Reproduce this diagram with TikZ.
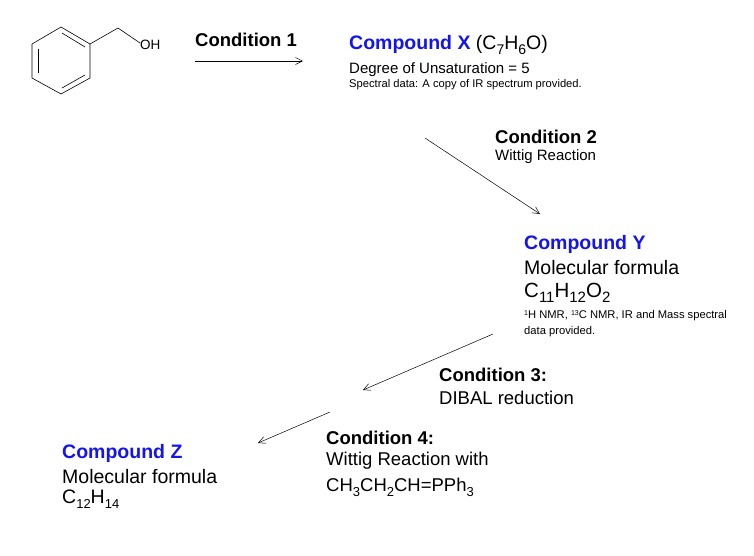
\documentclass[tikz,border=0pt]{standalone}
\usepackage{fontspec}
\setmainfont{Liberation Sans}
\usetikzlibrary{arrows.meta}
\definecolor{cblue}{RGB}{20,20,240}
\newcommand{\fs}[1]{\fontsize{#1}{#1}\selectfont}
\newcommand{\sbx}[2]{\raisebox{-5pt}{\fs{#1}#2}}
\begin{document}
\begin{tikzpicture}[x=1pt,y=-1pt,
  txt/.style={anchor=west,inner sep=0pt},
  rxn/.style={draw, line width=0.5pt, -{Straight Barb[length=7pt,width=7pt]}},
  bond/.style={line width=0.6pt}]
\useasboundingbox (0,0) rectangle (754,555);
% benzene
\coordinate (a1) at (61,27); \coordinate (a2) at (90,44); \coordinate (a3) at (90,78);
\coordinate (a4) at (61,94); \coordinate (a5) at (32,78); \coordinate (a6) at (32,44);
\coordinate (c1) at (118,28); \coordinate (c2) at (140,43);
\draw[bond] (a1)--(a2)--(a3)--(a4)--(a5)--(a6)--cycle;
\draw[bond] (38,49)--(38,73);
\draw[bond] (62,33)--(85,47);
\draw[bond] (62,88)--(85,75);
\draw[bond] (a2)--(c1)--(c2);
\node[txt] (oh) at (140,45) {\fs{13.5}OH};
% arrow 1
\coordinate (s1) at (195,61); \coordinate (e1) at (303,61);
\draw[rxn] (s1)--(e1);
\node[txt] (k1) at (195,40) {\fs{18.5}\bfseries Condition 1};
% compound X
\node[txt] (x1) at (349,45) {\fs{19.5}\textcolor{cblue}{\bfseries Compound X} (C\sbx{14}{7}H\sbx{14}{6}O)};
\node[txt] (x2) at (349,70) {\fs{15}Degree of Unsaturation = 5};
\node[txt] (x3) at (349,85) {\fs{11.2}Spectral data: A copy of IR spectrum provided.};
% arrow 2
\coordinate (s2) at (425,138); \coordinate (e2) at (540,214);
\draw[rxn] (s2)--(e2);
\node[txt] (k2) at (495,137) {\fs{18.5}\bfseries Condition 2};
\node[txt] (k2b) at (495,157) {\fs{15}Wittig Reaction};
% compound Y
\node[txt] (y1) at (524,244) {\fs{19.5}\textcolor{cblue}{\bfseries Compound Y}};
\node[txt] (y2) at (524,268) {\fs{19.5}Molecular formula};
\node[txt] (y3) at (524,293) {\fs{20.5}C\sbx{15}{11}H\sbx{15}{12}O\sbx{15}{2}};
\node[txt] (y4) at (524,316) {\fs{11.2}\raisebox{3pt}{\fs{7}1}H NMR, \raisebox{3pt}{\fs{7}13}C NMR, IR and Mass spectral};
\node[txt] (y5) at (524,332) {\fs{11.2}data provided.};
% arrow 3
\coordinate (s3) at (493,334); \coordinate (e3) at (363,390);
\draw[rxn] (s3)--(e3);
\node[txt] (k3) at (439,375) {\fs{18.5}\bfseries Condition 3:};
\node[txt] (k3b) at (439,398) {\fs{18.5}DIBAL reduction};
% arrow 4
\coordinate (s4) at (330,412); \coordinate (e4) at (258,443);
\draw[rxn] (s4)--(e4);
\node[txt] (k4) at (326,438) {\fs{18.5}\bfseries Condition 4:};
\node[txt] (k4b) at (326,461) {\fs{18.5}Wittig Reaction with};
\node[txt] (k4c) at (326,487) {\fs{18.5}CH\sbx{13}{3}CH\sbx{13}{2}CH=PPh\sbx{13}{3}};
% compound Z
\node[txt] (z1) at (62,453) {\fs{19.5}\textcolor{cblue}{\bfseries Compound Z}};
\node[txt] (z2) at (62,477) {\fs{19.5}Molecular formula};
\node[txt] (z3) at (62,499) {\fs{19.5}C\sbx{13}{12}H\sbx{13}{14}};
\end{tikzpicture}
\end{document}
